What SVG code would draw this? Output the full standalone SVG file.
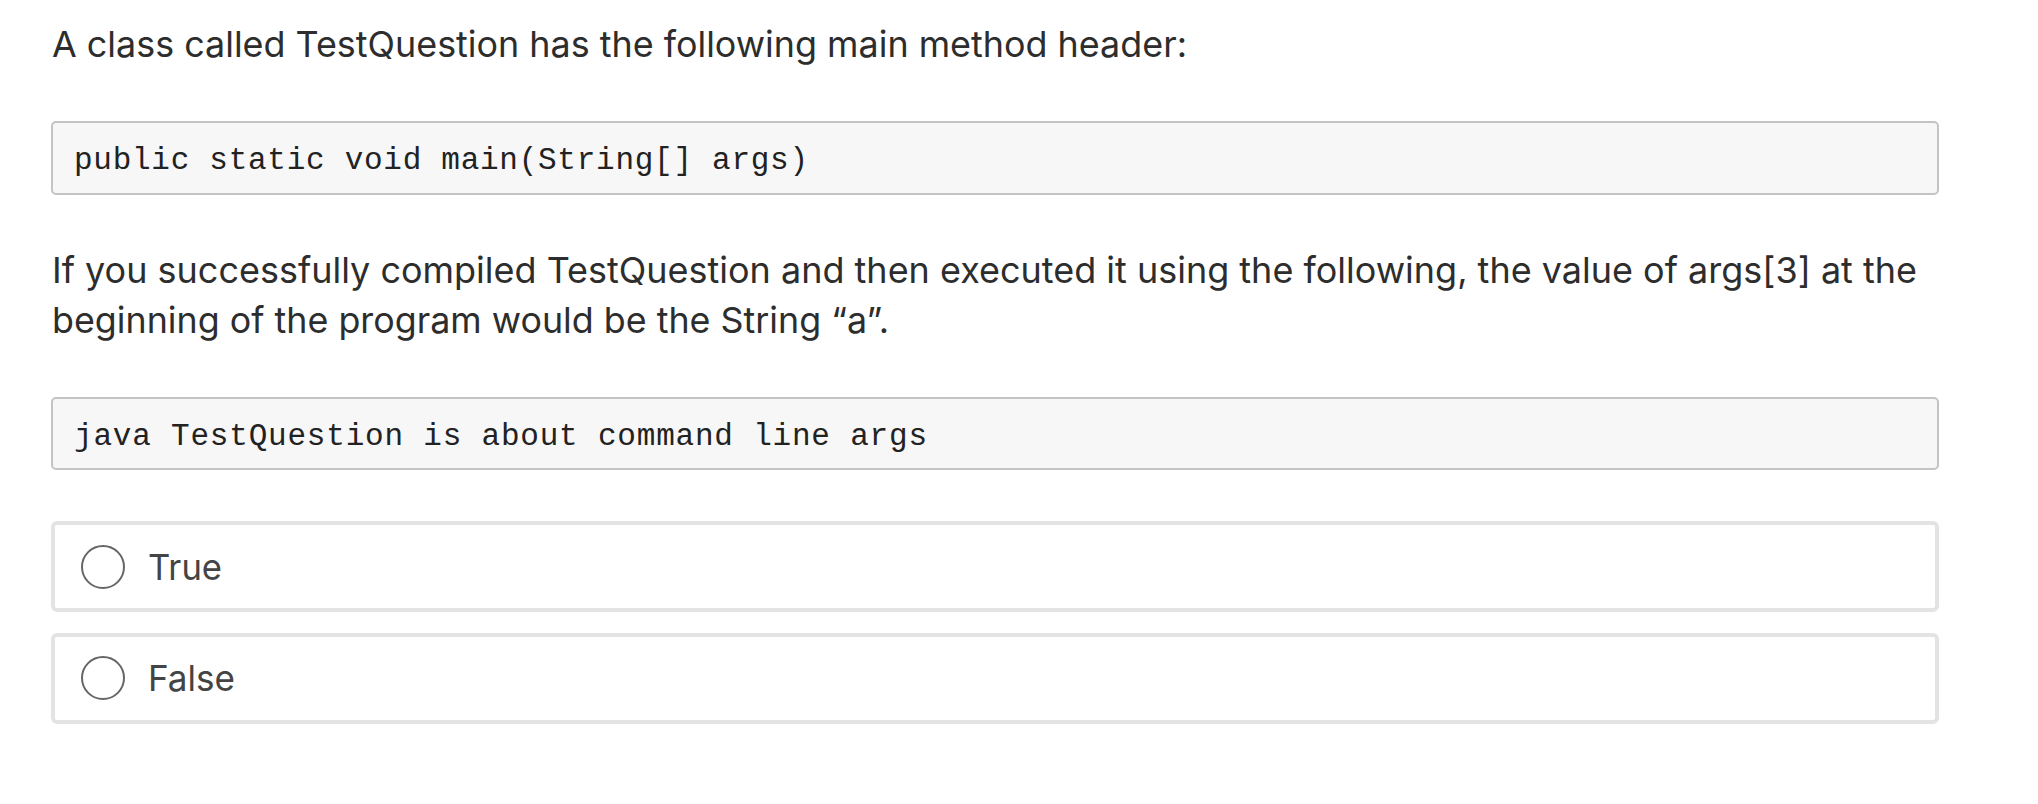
<svg xmlns="http://www.w3.org/2000/svg" width="2038" height="804" viewBox="0 0 2038 804">
<style>
.t{font-family:Inter,"Liberation Sans",sans-serif;font-size:36px;fill:#2d2d2d}
.c{font-family:"Liberation Mono",monospace;font-size:31px;fill:#222}
.code{fill:#f7f7f7;stroke:#c4c4c4;stroke-width:2}
.opt{fill:#fff;stroke:#e3e3e3;stroke-width:4}
.o{font-family:Inter,"Liberation Sans",sans-serif;font-size:36px;fill:#444}
.r{fill:#fff;stroke:#666;stroke-width:2}
</style>
<rect width="2038" height="804" fill="#fff"/>
<text class="t" x="52" y="57" textLength="1135" lengthAdjust="spacingAndGlyphs">A class called TestQuestion has the following main method header:</text>
<g id="code1"><rect class="code" x="52" y="122" width="1886" height="72" rx="4"/>
<text class="c" x="74" y="169" textLength="734" lengthAdjust="spacing">public static void main(String[] args)</text></g>
<text class="t" x="52" y="283" textLength="1865" lengthAdjust="spacingAndGlyphs">If you successfully compiled TestQuestion and then executed it using the following, the value of args[3] at the</text>
<text class="t" x="52" y="333" textLength="837" lengthAdjust="spacingAndGlyphs">beginning of the program would be the String “a”.</text>
<g id="code2"><rect class="code" x="52" y="398" width="1886" height="71" rx="4"/>
<text class="c" x="74" y="445" textLength="853" lengthAdjust="spacing">java TestQuestion is about command line args</text></g>
<g id="opt-true"><rect class="opt" x="53" y="523" width="1884" height="87" rx="4"/>
<circle class="r" cx="103" cy="567" r="21"/>
<text class="o" x="148" y="580" textLength="74" lengthAdjust="spacingAndGlyphs">True</text></g>
<g id="opt-false"><rect class="opt" x="53" y="635" width="1884" height="87" rx="4"/>
<circle class="r" cx="103" cy="678" r="21"/>
<text class="o" x="148" y="691" textLength="87" lengthAdjust="spacingAndGlyphs">False</text></g>
</svg>
